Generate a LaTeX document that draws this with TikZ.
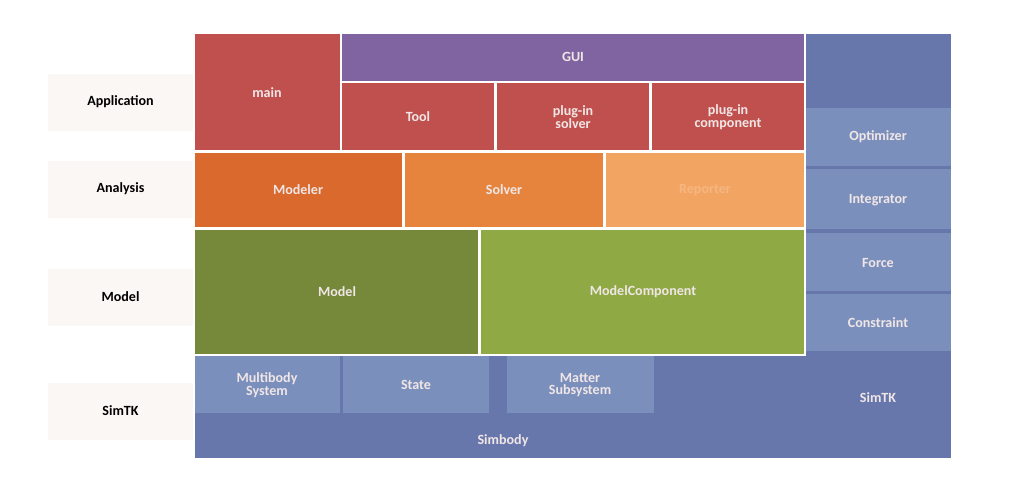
\documentclass[tikz,border=0pt]{standalone}
\usepackage{fontspec}
\setmainfont{Carlito}
\definecolor{lbl}{HTML}{FBF7F4}
\definecolor{red}{HTML}{C0504D}
\definecolor{purp}{HTML}{8064A2}
\definecolor{blu}{HTML}{6877AB}
\definecolor{lblu}{HTML}{7B8FBC}
\definecolor{or1}{HTML}{D9692C}
\definecolor{or2}{HTML}{E6843E}
\definecolor{or3}{HTML}{F2A462}
\definecolor{gr1}{HTML}{76883A}
\definecolor{gr2}{HTML}{8FAA44}
\definecolor{txt}{HTML}{F0E6E6}
\begin{document}
\begin{tikzpicture}[x=0.03cm,y=-0.03cm,
  box/.style={inner sep=0pt,font=\bfseries\large,text=txt,align=center},
  lab/.style={fill=lbl,inner sep=0pt,font=\bfseries\large,text=black}]
\useasboundingbox (0,0) rectangle (1012,477);
\fill[white] (0,0) rectangle (1012,477);
\newcommand\bx[5]{\fill[#5] (#1,#2) rectangle (#3,#4);}
% labels
\node[lab,minimum width=145*0.03cm,minimum height=57*0.03cm] (la) at (120.5,102) {Application};
\node[lab,minimum width=145*0.03cm,minimum height=57*0.03cm] (lb) at (120.5,189) {Analysis};
\node[lab,minimum width=145*0.03cm,minimum height=57*0.03cm] (lc) at (120.5,297) {Model};
\node[lab,minimum width=145*0.03cm,minimum height=57*0.03cm] (ld) at (120.5,411) {SimTK};
% right column and bottom
\bx{806}{34}{951}{458}{blu}
\bx{195}{356}{951}{458}{blu}
\bx{806}{108}{951}{166}{lblu}
\bx{806}{169}{951}{229}{lblu}
\bx{806}{233}{951}{291}{lblu}
\bx{806}{294}{951}{351}{lblu}
\node[box] (opt) at (878,137) {Optimizer};
\node[box] (int) at (878,200) {Integrator};
\node[box] (frc) at (878,263) {Force};
\node[box] (con) at (878,323) {Constraint};
\node[box] (stk) at (878,398) {SimTK};
\bx{195}{356}{340}{413}{lblu}
\bx{343}{356}{489}{413}{lblu}
\bx{507}{356}{654}{413}{lblu}
\node[box] (mbs) at (267,385) {Multibody\\[-3pt]System};
\node[box] (st) at (416,385) {State};
\node[box] (ms) at (580,385) {Matter\\[-3pt]Subsystem};
\node[box] (sb) at (503,441) {Simbody};
% application
\bx{195}{34}{340}{150}{red}
\bx{342}{34}{804}{81}{purp}
\bx{342}{83}{494}{150}{red}
\bx{497}{83}{649}{150}{red}
\bx{652}{83}{804}{150}{red}
\node[box] (mn) at (267,93) {main};
\node[box] (gui) at (573,57) {GUI};
\node[box] (tl) at (418,117) {Tool};
\node[box] (ps) at (573,117) {plug-in\\[-3pt]solver};
\node[box] (pc) at (728,117) {plug-in\\[-3pt]component};
% analysis
\bx{195}{153}{402}{227}{or1}
\bx{405}{153}{603}{227}{or2}
\bx{606}{153}{804}{227}{or3}
\node[box] (mod) at (298,190) {Modeler};
\node[box] (sol) at (504,190) {Solver};
\node[box,text=or3!80!white] (rep) at (705,190) {Reporter};
% model
\bx{195}{230}{478}{354}{gr1}
\bx{481}{230}{804}{354}{gr2}
\node[box] (md) at (337,292) {Model};
\node[box] (mc) at (643,292) {ModelComponent};
\end{tikzpicture}
\end{document}
